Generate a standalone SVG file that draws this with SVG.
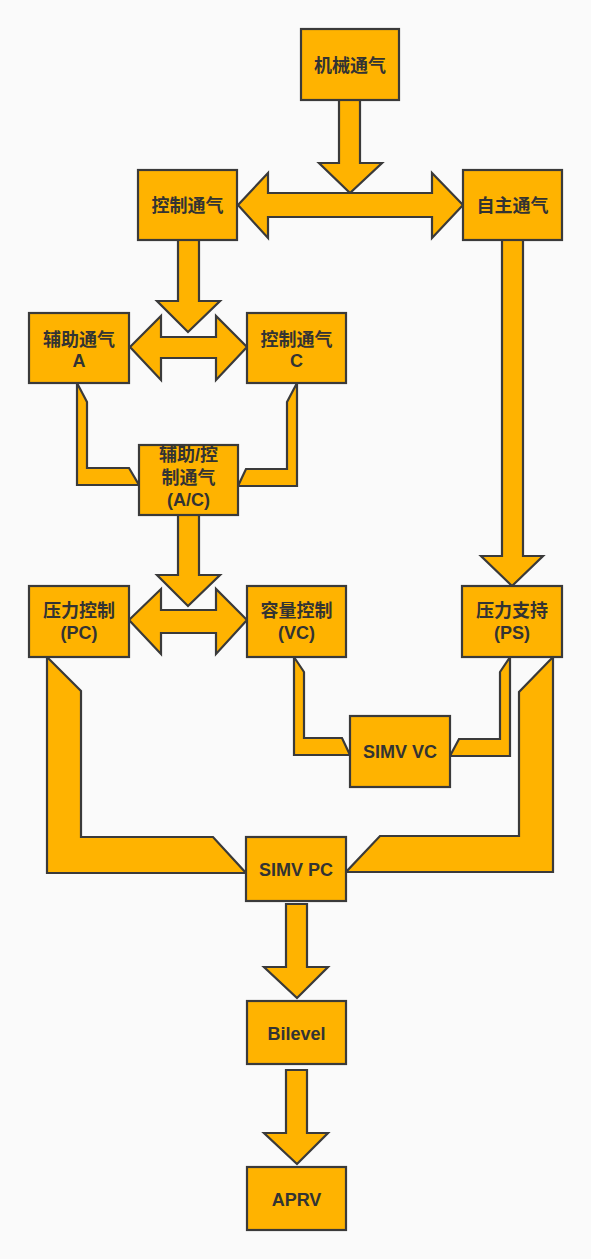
<svg xmlns="http://www.w3.org/2000/svg" width="591" height="1259" viewBox="0 0 591 1259">
<style>
.b{fill:#FFB300;stroke:#3a3a3a;stroke-width:2.2}
.c{fill:#FFB300;stroke:#3a3a3a;stroke-width:2.2;stroke-linejoin:miter}
.t{font-family:"Liberation Sans","Noto Sans CJK SC",sans-serif;font-weight:bold;font-size:18px;fill:#333;text-anchor:middle}
</style>
<rect width="591" height="1259" fill="#FAFAFA"/>
<g id="connectors">
<polygon class="c" points="339,100 360,100 360,163 382,163 350,193 319,163 339,163"/>
<polygon class="c" points="238,205 268,173 268,193 432,193 432,173 463,205 432,238 432,217 268,217 268,238"/>
<polygon class="c" points="178,240 199,240 199,301 220,301 188,332 157,301 178,301"/>
<polygon class="c" points="130,347 161,316 161,337 216,337 216,316 247,347 216,380 216,358 161,358 161,380"/>
<polygon class="c" points="77,383 87,402 87,468 129,468 139,485 77,485"/>
<polygon class="c" points="297,383 287,402 287,469 246,469 238,486 297,486"/>
<polygon class="c" points="178,515 199,515 199,575 220,575 188,606 157,575 178,575"/>
<polygon class="c" points="129,620 161,589 161,610 216,610 216,589 247,620 216,654 216,633 161,633 161,654"/>
<polygon class="c" points="502,240 523,240 523,556 543,556 512,586 481,556 502,556"/>
<polygon class="c" points="294,657 304,672 304,738 342,738 350,755 294,755"/>
<polygon class="c" points="510,657 500,672 500,739 459,739 450,756 510,756"/>
<polygon class="c" points="47,657 81,691 81,837 213,837 246,873 47,873"/>
<polygon class="c" points="553,657 519,692 519,836 380,836 346,872 553,872"/>
<polygon class="c" points="286,904 307,904 307,967 328,967 297,998 264,967 286,967"/>
<polygon class="c" points="286,1070 307,1070 307,1133 328,1133 297,1164 264,1133 286,1133"/>
</g>
<g id="n1"><rect class="b" x="301" y="29" width="98" height="71"/><text class="t" x="350" y="72">机械通气</text></g>
<g id="n2"><rect class="b" x="138" y="170" width="99" height="70"/><text class="t" x="187.5" y="212">控制通气</text></g>
<g id="n3"><rect class="b" x="463" y="170" width="99" height="70"/><text class="t" x="512.5" y="212">自主通气</text></g>
<g id="n4"><rect class="b" x="29" y="313" width="100" height="70"/><text class="t" x="79" y="346">辅助通气</text><text class="t" x="79" y="367">A</text></g>
<g id="n5"><rect class="b" x="247" y="313" width="99" height="70"/><text class="t" x="296.5" y="346">控制通气</text><text class="t" x="296.5" y="367">C</text></g>
<g id="n6"><rect class="b" x="139" y="445" width="99" height="70"/><text class="t" x="188.5" y="461">辅助/控</text><text class="t" x="188.5" y="484">制通气</text><text class="t" x="188.5" y="506">(A/C)</text></g>
<g id="n7"><rect class="b" x="29" y="586" width="100" height="71"/><text class="t" x="79" y="617">压力控制</text><text class="t" x="79" y="639">(PC)</text></g>
<g id="n8"><rect class="b" x="247" y="586" width="99" height="71"/><text class="t" x="296.5" y="617">容量控制</text><text class="t" x="296.5" y="639">(VC)</text></g>
<g id="n9"><rect class="b" x="462" y="586" width="100" height="71"/><text class="t" x="512" y="617">压力支持</text><text class="t" x="512" y="639">(PS)</text></g>
<g id="n10"><rect class="b" x="350" y="716" width="100" height="71"/><text class="t" x="400" y="758">SIMV VC</text></g>
<g id="n11"><rect class="b" x="246" y="837" width="100" height="64"/><text class="t" x="296" y="876">SIMV PC</text></g>
<g id="n12"><rect class="b" x="247" y="1001" width="99" height="63"/><text class="t" x="296.5" y="1040">Bilevel</text></g>
<g id="n13"><rect class="b" x="247" y="1167" width="99" height="63"/><text class="t" x="296.5" y="1206">APRV</text></g>
</svg>
